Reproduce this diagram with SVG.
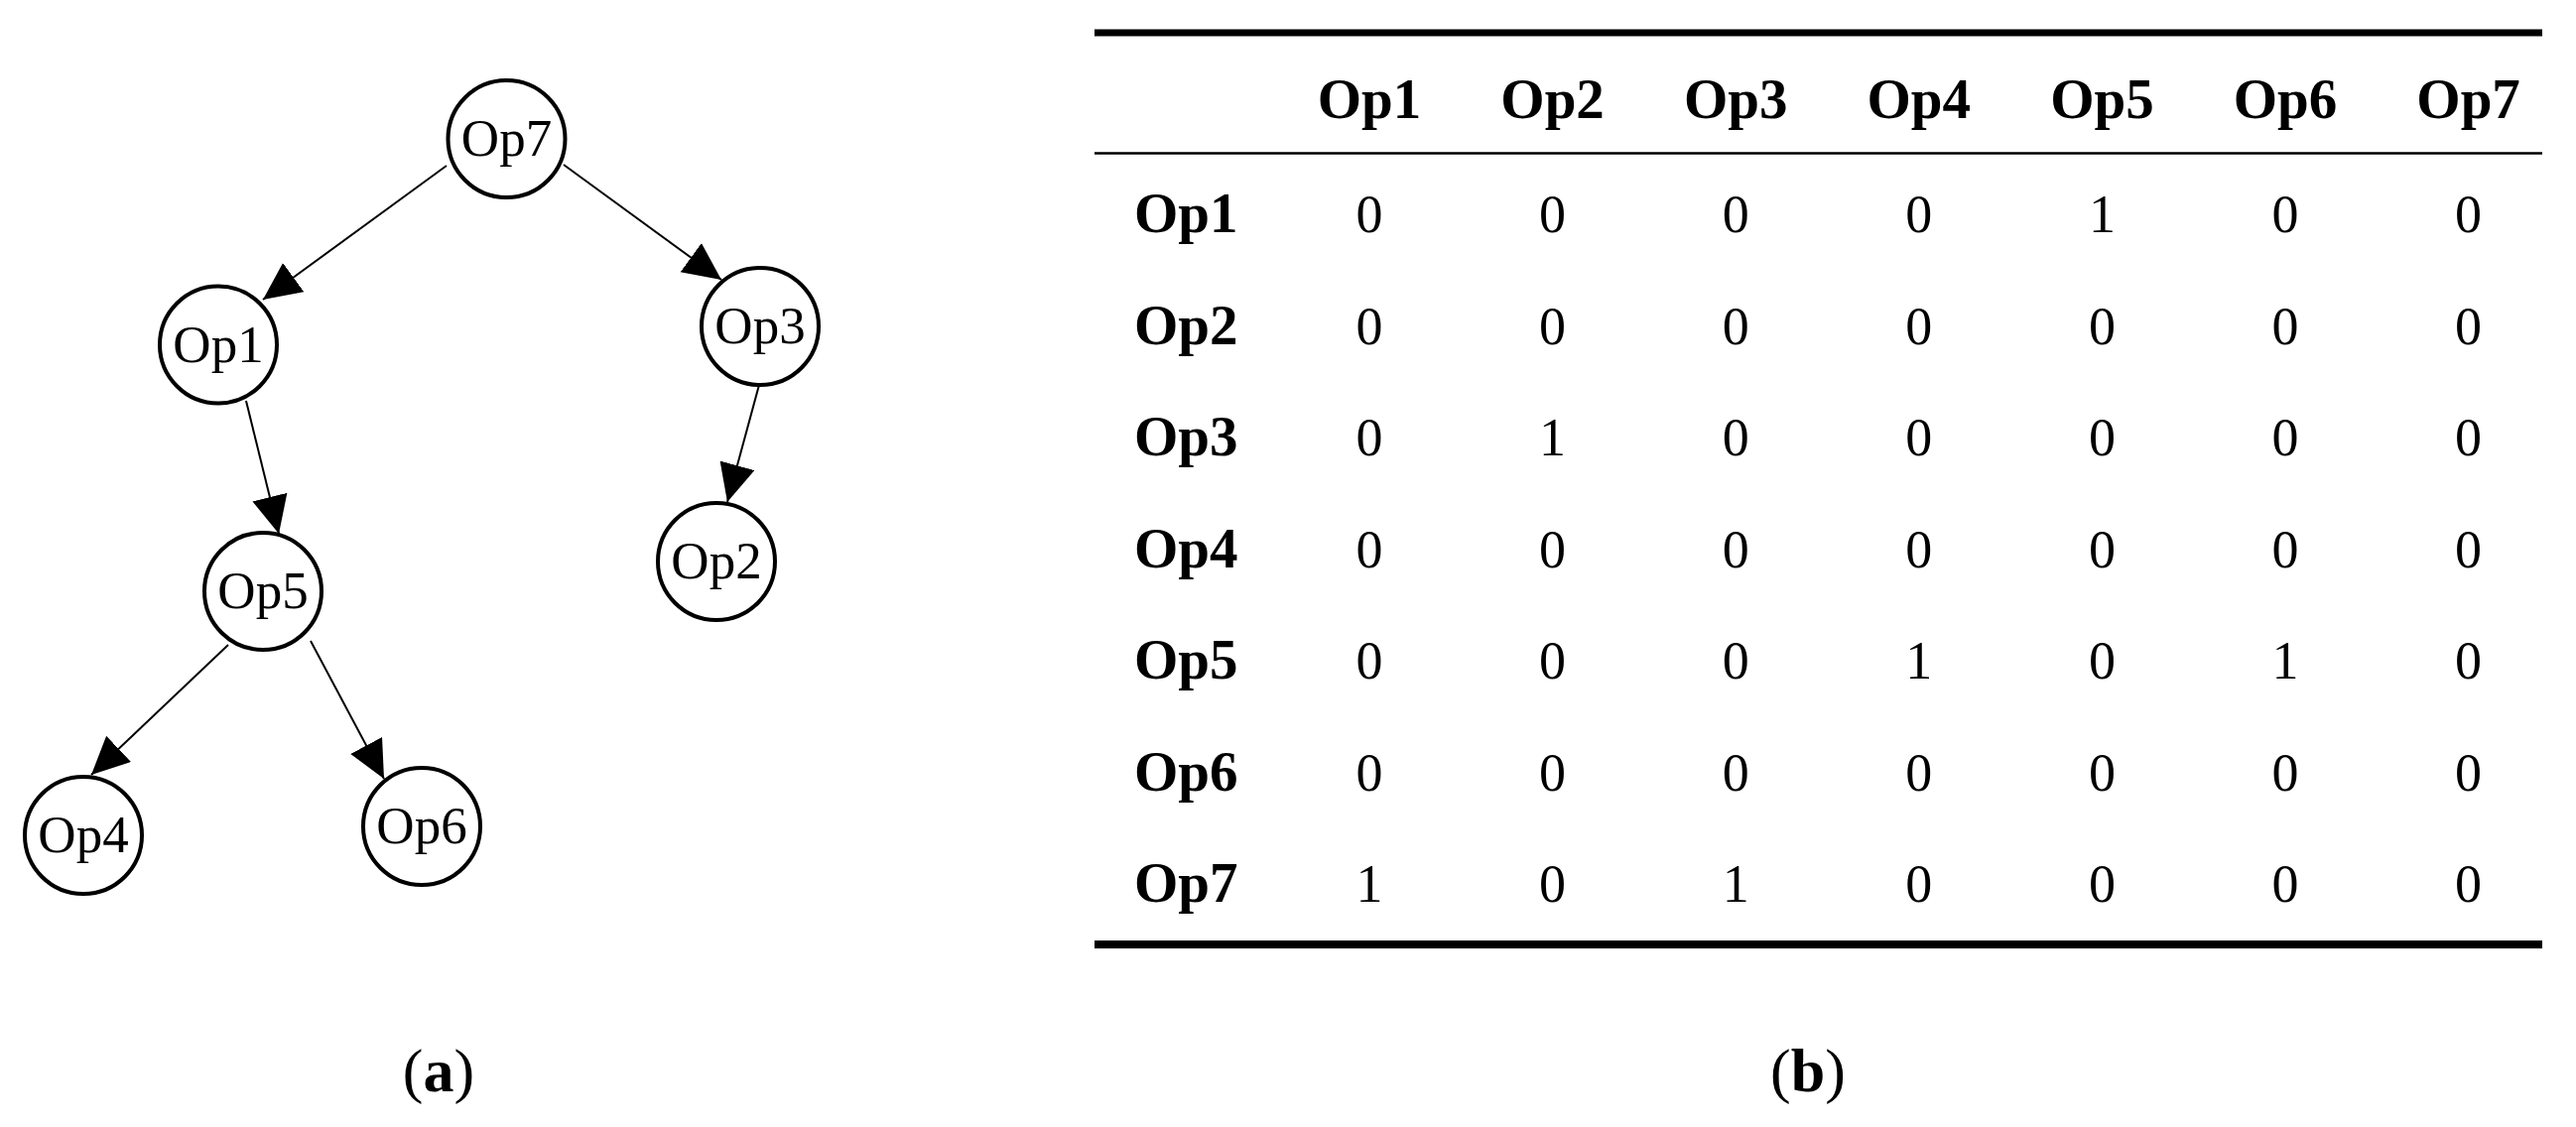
<svg xmlns="http://www.w3.org/2000/svg" width="2596" height="1136" viewBox="0 0 2596 1136">
<style>
.node circle{fill:#fff;stroke:#000;stroke-width:4}
.node text{font-family:"Liberation Serif",serif;font-size:53px;text-anchor:middle;fill:#000}
.edge{stroke:#000;stroke-width:2;fill:none}
.th{font-family:"Liberation Serif",serif;font-size:57px;font-weight:bold;text-anchor:middle}
.rl{font-family:"Liberation Serif",serif;font-size:57px;font-weight:bold;text-anchor:start}
.v{font-family:"Liberation Serif",serif;font-size:54px;text-anchor:middle}
.cap{font-family:"Liberation Serif",serif;font-size:62px;text-anchor:middle}
</style>
<defs>
<marker id="ah" markerUnits="userSpaceOnUse" markerWidth="42" markerHeight="40" refX="38" refY="18" orient="auto">
<path d="M0,0 L38,18 L0,36 z" fill="#000"/>
</marker>
</defs>
<rect width="2596" height="1136" fill="#fff"/>
<g id="connectors">
<line class="edge" x1="450" y1="167" x2="265" y2="302" marker-end="url(#ah)"/>
<line class="edge" x1="568" y1="166" x2="727" y2="282" marker-end="url(#ah)"/>
<line class="edge" x1="248" y1="404" x2="281" y2="538" marker-end="url(#ah)"/>
<line class="edge" x1="765" y1="388" x2="733" y2="506" marker-end="url(#ah)"/>
<line class="edge" x1="230" y1="650" x2="92" y2="781" marker-end="url(#ah)"/>
<line class="edge" x1="313" y1="646" x2="387" y2="785" marker-end="url(#ah)"/>
</g>
<g id="Op7" class="node"><circle cx="510.5" cy="140" r="59"/><text x="510.5" y="157">Op7</text></g>
<g id="Op1" class="node"><circle cx="220" cy="347.5" r="59"/><text x="220" y="364.5">Op1</text></g>
<g id="Op3" class="node"><circle cx="766" cy="329" r="59"/><text x="766" y="346">Op3</text></g>
<g id="Op5" class="node"><circle cx="265" cy="596" r="59"/><text x="265" y="613">Op5</text></g>
<g id="Op2" class="node"><circle cx="722" cy="566" r="59"/><text x="722" y="583">Op2</text></g>
<g id="Op4" class="node"><circle cx="84" cy="842" r="59"/><text x="84" y="859">Op4</text></g>
<g id="Op6" class="node"><circle cx="425" cy="833" r="59"/><text x="425" y="850">Op6</text></g>
<text class="cap" x="442" y="1100">(<tspan font-weight="bold">a</tspan>)</text>
<g id="table">
<line x1="1103" y1="33" x2="2562" y2="33" stroke="#000" stroke-width="7"/>
<line x1="1103" y1="154.5" x2="2562" y2="154.5" stroke="#000" stroke-width="2.5"/>
<line x1="1103" y1="952" x2="2562" y2="952" stroke="#000" stroke-width="8"/>
<g class="th">
<text x="1380" y="119">Op1</text><text x="1564.6" y="119">Op2</text><text x="1749.2" y="119">Op3</text><text x="1933.8" y="119">Op4</text><text x="2118.4" y="119">Op5</text><text x="2303" y="119">Op6</text><text x="2487.6" y="119">Op7</text>
</g>
<g class="rl">
<text x="1143" y="234">Op1</text><text x="1143" y="346.5">Op2</text><text x="1143" y="459">Op3</text><text x="1143" y="571.5">Op4</text><text x="1143" y="684">Op5</text><text x="1143" y="796.5">Op6</text><text x="1143" y="909">Op7</text>
</g>
<g class="v">
<text x="1380" y="234">0</text><text x="1564.6" y="234">0</text><text x="1749.2" y="234">0</text><text x="1933.8" y="234">0</text><text x="2118.4" y="234">1</text><text x="2303" y="234">0</text><text x="2487.6" y="234">0</text>
<text x="1380" y="346.5">0</text><text x="1564.6" y="346.5">0</text><text x="1749.2" y="346.5">0</text><text x="1933.8" y="346.5">0</text><text x="2118.4" y="346.5">0</text><text x="2303" y="346.5">0</text><text x="2487.6" y="346.5">0</text>
<text x="1380" y="459">0</text><text x="1564.6" y="459">1</text><text x="1749.2" y="459">0</text><text x="1933.8" y="459">0</text><text x="2118.4" y="459">0</text><text x="2303" y="459">0</text><text x="2487.6" y="459">0</text>
<text x="1380" y="571.5">0</text><text x="1564.6" y="571.5">0</text><text x="1749.2" y="571.5">0</text><text x="1933.8" y="571.5">0</text><text x="2118.4" y="571.5">0</text><text x="2303" y="571.5">0</text><text x="2487.6" y="571.5">0</text>
<text x="1380" y="684">0</text><text x="1564.6" y="684">0</text><text x="1749.2" y="684">0</text><text x="1933.8" y="684">1</text><text x="2118.4" y="684">0</text><text x="2303" y="684">1</text><text x="2487.6" y="684">0</text>
<text x="1380" y="796.5">0</text><text x="1564.6" y="796.5">0</text><text x="1749.2" y="796.5">0</text><text x="1933.8" y="796.5">0</text><text x="2118.4" y="796.5">0</text><text x="2303" y="796.5">0</text><text x="2487.6" y="796.5">0</text>
<text x="1380" y="909">1</text><text x="1564.6" y="909">0</text><text x="1749.2" y="909">1</text><text x="1933.8" y="909">0</text><text x="2118.4" y="909">0</text><text x="2303" y="909">0</text><text x="2487.6" y="909">0</text>
</g>
</g>
<text class="cap" x="1822" y="1100">(<tspan font-weight="bold">b</tspan>)</text>
</svg>
